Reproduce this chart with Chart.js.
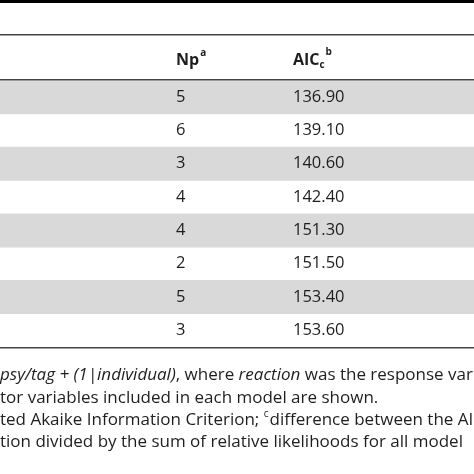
<!DOCTYPE html>
<html>
<head>
<meta charset="utf-8">
<script src="https://cdn.jsdelivr.net/npm/chart.js@4"></script>
<style>
  html, body { margin: 0; padding: 0; background: #fff; }
  #wrap { width: 474px; height: 474px; }
</style>
</head>
<body>
<div id="wrap"><canvas id="tbl"></canvas></div>
<script>
const rows = ["1", "2", "3", "4", "5", "6", "7", "8"];
const npValues = [5, 6, 3, 4, 4, 2, 5, 3];
const aicValues = [136.9, 139.1, 140.6, 142.4, 151.3, 151.5, 153.4, 153.6];
const footnotes = [
  [["psy/tag + (1|", "i"], ["individual)", "i"], [", where ", "n"], ["reaction", "i"], [" was the response vari", "n"]],
  [["tor variables included in each model are shown.", "n"]],
  [["ted Akaike Information Criterion; ", "n"], ["c", "sup"], ["difference between the AIC", "n"]],
  [["tion divided by the sum of relative likelihoods for all model", "n"]]
];

const FONT = "'Open Sans', sans-serif";
const INK = "#1e1e1e";
const COL_NP = 176;
const COL_AIC = 293;

/* ── grey bands on odd rows ── */
const bands = rows.map((_, i) => (i % 2 === 0 ? [0, 474] : null));

const tablePlugin = {
  id: "tableText",
  afterDatasetsDraw(chart) {
    const { ctx, scales } = chart;
    const y = scales.y;
    ctx.save();
    ctx.textBaseline = "middle";

    // rules
    ctx.fillStyle = "#000";
    ctx.fillRect(0, 0, 474, 3);
    ctx.fillStyle = "#444";
    ctx.fillRect(0, 34, 474, 1.5);
    ctx.fillRect(0, 79, 474, 1.5);
    ctx.fillRect(0, 347, 474, 1.5);

    // header
    ctx.fillStyle = INK;
    ctx.font = "bold 16px " + FONT;
    ctx.fillText("Np", COL_NP, 60);
    let w = ctx.measureText("Np").width;
    ctx.font = "bold 10px " + FONT;
    ctx.fillText("a", COL_NP + w + 1, 53);
    ctx.font = "bold 16px " + FONT;
    ctx.fillText("AIC", COL_AIC, 60);
    w = ctx.measureText("AIC").width;
    ctx.font = "bold 10px " + FONT;
    ctx.fillText("c", COL_AIC + w, 65);
    ctx.fillText("b", COL_AIC + w + 6, 52);

    // cells
    ctx.font = "16.5px " + FONT;
    rows.forEach((r, i) => {
      const py = y.getPixelForValue(i);
      ctx.fillText(String(npValues[i]), COL_NP, py);
      ctx.fillText(aicValues[i].toFixed(2), COL_AIC, py);
    });

    // footnotes
    const lineY = [375, 398, 420, 442];
    footnotes.forEach((parts, li) => {
      let x = 0;
      parts.forEach(([t, s]) => {
        if (s === "sup") {
          ctx.font = "10px " + FONT;
          ctx.fillText(t, x, lineY[li] - 6);
        } else {
          ctx.font = (s === "i" ? "italic " : "") + "17px " + FONT;
          ctx.fillText(t, x, lineY[li]);
        }
        x += ctx.measureText(t).width + (s === "sup" ? 1 : 0);
      });
    });
    ctx.restore();
  }
};

new Chart(document.getElementById("tbl"), {
  type: "bar",
  data: {
    labels: rows,
    datasets: [{
      data: bands,
      backgroundColor: "#d9d9d9",
      borderWidth: 0,
      barPercentage: 1,
      categoryPercentage: 1
    }]
  },
  options: {
    indexAxis: "y",
    responsive: true,
    maintainAspectRatio: false,
    animation: false,
    layout: { padding: { top: 80.5, bottom: 127, left: 0, right: 0 } },
    plugins: { legend: { display: false }, tooltip: { enabled: false } },
    scales: {
      x: { display: false, min: 0, max: 474 },
      y: { display: false }
    }
  },
  plugins: [tablePlugin]
});
</script>
</body>
</html>
